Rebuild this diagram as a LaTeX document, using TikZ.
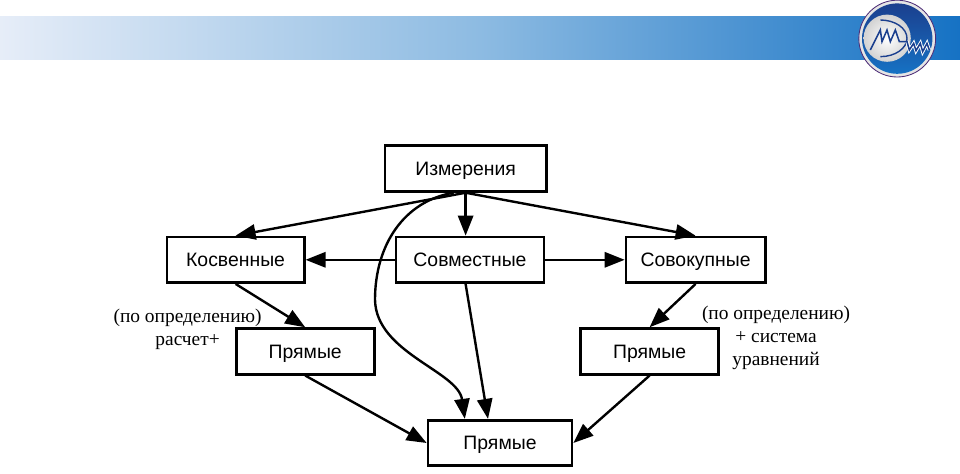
\documentclass[tikz,border=0pt]{standalone}
\usepackage{fontspec}
\setmainfont{Liberation Serif}
\setsansfont{Liberation Sans}
\usepackage{tikz}
\usetikzlibrary{arrows.meta}
\tikzset{
	blockbox/.style={shape=rectangle, draw, line width=1.9pt, minimum height=1.14cm, inner sep=0pt, text height=11.4pt, text depth=2pt, font=\sffamily\fontsize{13.8}{15}\selectfont},
	notetext/.style={align=center, font=\fontsize{13.8}{16.4}\selectfont},
	link/.style={-{Triangle[length=0.5cm,width=0.38cm]}, line width=1.7pt},
	zigline/.style={line width=1.1pt, line join=miter}
}
\definecolor{bandend}{HTML}{1672C4}
\definecolor{bandmid}{HTML}{8DBBE2}
\definecolor{bandstart}{HTML}{E6EDF8}
\definecolor{logoblue}{HTML}{1B3F8E}
\begin{document}
\begin{tikzpicture}
	\useasboundingbox (0,0) rectangle (24,11.825);

	\fill[left color=bandstart, right color=bandend, middle color=bandmid] (0,10.33) rectangle (24,11.4);

	% logo
	\node[shape=circle, draw=logoblue!70!purple, line width=0.6pt, fill=gray!20, minimum size=1.92cm, inner sep=0pt] (ring) at (22.43,10.86) {};
	\node[shape=circle, top color=logoblue, bottom color=bandend, minimum size=1.76cm, inner sep=0pt] (disc) at (22.43,10.86) {};
	\node[shape=circle, inner color=white, outer color=gray!35, minimum size=1.18cm, inner sep=0pt] (face) at (22.18,10.87) {};
	\begin{scope}[shift={(21.3,11.825)}, x=0.00833cm, y=-0.00833cm]
		\draw[logoblue, line width=1pt] (85,60) arc[start angle=-90, end angle=90, x radius=80, y radius=55];
		\draw[white, line width=2.4pt] (165,125) -- (172,150) -- (185,130) -- (192,152) -- (205,130) -- (212,155) -- (225,130) -- (232,150);
		\draw[logoblue, zigline] (55,150) -- (85,90) -- (90,125) -- (105,90) -- (115,125) -- (130,90) -- (142,125) -- (165,125) -- (172,150) -- (185,130) -- (192,152) -- (205,130) -- (212,155) -- (225,130) -- (232,150);
	\end{scope}

	\node[blockbox, minimum width=4.03cm] (izm) at (11.64,7.61) {Измерения};
	\node[blockbox, minimum width=3.43cm] (kos) at (5.89,5.33) {Косвенные};
	\node[blockbox, minimum width=3.7cm] (sov) at (11.75,5.33) {Совместные};
	\node[blockbox, minimum width=3.48cm] (sok) at (17.39,5.33) {Совокупные};
	\node[blockbox, minimum width=3.45cm] (prl) at (7.63,3.04) {Прямые};
	\node[blockbox, minimum width=3.45cm] (prr) at (16.24,3.04) {Прямые};
	\node[blockbox, minimum width=3.6cm] (bot) at (12.5,0.75) {Прямые};

	\node[notetext] (noteleft) at (4.69,3.6) {(по определению)\\расчет+};
	\node[notetext] (noteright) at (19.4,3.38) {(по определению)\\+ система\\уравнений};

	\path [link] (izm.south) edge (kos.north);
	\path [link] (izm.south) edge (izm.south |- sov.north);
	\path [link] (izm.south) edge (sok.north);
	\path [link] (sov.west) edge (kos.east);
	\path [link] (sov.east) edge (sok.west);
	\path [link] (kos.south) edge (prl.north);
	\path [link] (sok.south) edge (prr.north);
	\path [link] (izm.south |- sov.south) edge ([xshift=-0.3cm]bot.north);
	\path [link] (prl.south) edge (bot.west);
	\path [link] (prr.south) edge (bot.east);
	\draw [link] ([xshift=-0.3cm]izm.south) .. controls (10.1,6.8) and (9.375,5.7) .. (9.375,4.33) .. controls (9.4,3) and (11.45,2.55) .. ([xshift=-0.88cm]bot.north);
\end{tikzpicture}
\end{document}
